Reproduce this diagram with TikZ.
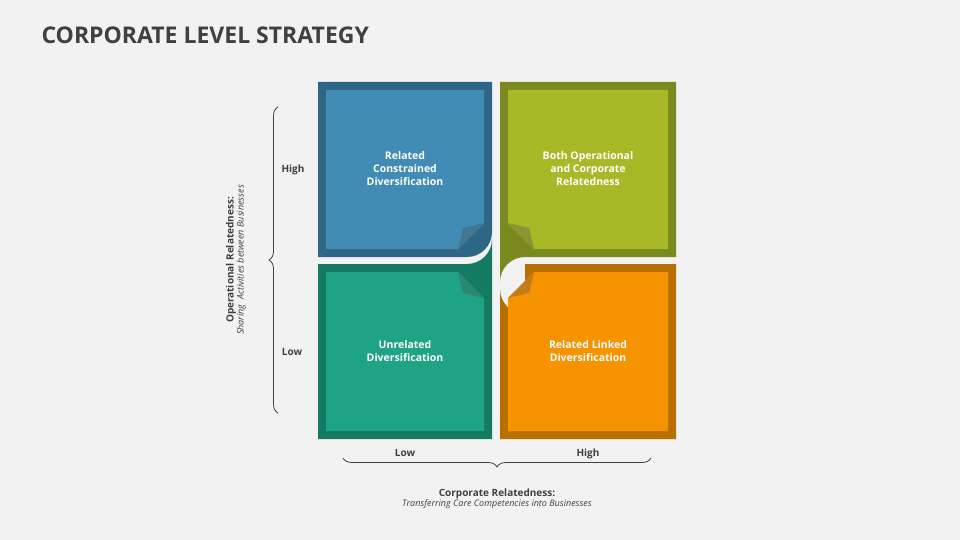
\documentclass[tikz,border=0pt]{standalone}
\usepackage{fontspec}
\setmainfont{Open Sans}
\usetikzlibrary{decorations.pathreplacing}
\definecolor{bg}{HTML}{F2F2F2}
\definecolor{tt}{HTML}{404040}
\definecolor{bA}{HTML}{428BB5}\definecolor{bD}{HTML}{2E6786}
\definecolor{gA}{HTML}{A9B826}\definecolor{gD}{HTML}{7A8A1E}
\definecolor{tA}{HTML}{1FA385}\definecolor{tD}{HTML}{157A62}
\definecolor{oA}{HTML}{F59300}\definecolor{oD}{HTML}{B96F00}
\tikzset{lbl/.style={text=white,font=\fontsize{10.5}{13}\selectfont\bfseries,align=center},
axl/.style={text=tt,font=\fontsize{10}{12}\selectfont\bfseries},
brc/.style={decorate,decoration={brace,amplitude=9pt},draw=tt,thick}}
\begin{document}
\begin{tikzpicture}[x=1pt,y=-1pt]
\fill[bg] (0,0) rectangle (960,540);
\node[anchor=west,text=tt,font=\fontsize{23}{28}\selectfont\bfseries] (title) at (38,35) {CORPORATE LEVEL STRATEGY};
% TL
\fill[bD] (318,82) -- (492,82) -- (492,232) arc[start angle=0,end angle=90,radius=25] -- (318,257) -- cycle;
\fill[bA] (326,90) -- (484,90) -- (484,223) -- (458,249) -- (326,249) -- cycle;
\fill[bD!90] (484,223) -- (458,249) -- (463,228) -- cycle;
% TR
\fill[gD] (500,82) -- (676,82) -- (676,257) -- (525,257) arc[start angle=270,end angle=180,radius=25] -- cycle;
\fill[gA] (508,90) -- (668,90) -- (668,249) -- (534,249) -- (508,223) -- cycle;
\fill[gD!90] (508,223) -- (534,249) -- (529,228) -- cycle;
% BL
\fill[tD] (318,264) -- (467,264) arc[start angle=90,end angle=0,radius=25] -- (492,439) -- (318,439) -- cycle;
\fill[tA] (326,272) -- (458,272) -- (484,298) -- (484,431) -- (326,431) -- cycle;
\fill[tD!90] (458,272) -- (484,298) -- (463,293) -- cycle;
% BR
\fill[oD] (525,264) -- (676,264) -- (676,439) -- (500,439) -- (500,289) arc[start angle=180,end angle=90,radius=25] -- cycle;
\fill[oA] (534,272) -- (668,272) -- (668,431) -- (508,431) -- (508,298) -- cycle;
\fill[oD!90] (534,272) -- (508,298) -- (529,293) -- cycle;
\node[lbl] (q1) at (405,169) {Related\\Constrained\\Diversification};
\node[lbl] (q2) at (588,169) {Both Operational\\and Corporate\\Relatedness};
\node[lbl] (q3) at (405,351) {Unrelated\\Diversification};
\node[lbl] (q4) at (588,351) {Related Linked\\Diversification};
\node[axl] (yh) at (293,170) {High};
\node[axl] (yl) at (292,352) {Low};
\node[axl] (xl) at (405,453) {Low};
\node[axl] (xh) at (588,454) {High};
\coordinate (b1) at (278,107); \coordinate (b2) at (278,413);
\draw[brc] (b2) -- (b1);
\coordinate (c1) at (343,458); \coordinate (c2) at (651,458);
\draw[brc] (c2) -- (c1);
\node[axl,rotate=90,align=center] (yt) at (236,260) {Operational Relatedness:\\[-2pt]{\mdseries\itshape\fontsize{9}{11}\selectfont Sharing\ \ Activities between Businesses}};
\node[axl,align=center] (xt) at (497,499) {Corporate Relatedness:\\[-2pt]{\mdseries\itshape\fontsize{9}{11}\selectfont Transferring Care Competencies into Businesses}};
\end{tikzpicture}
\end{document}
